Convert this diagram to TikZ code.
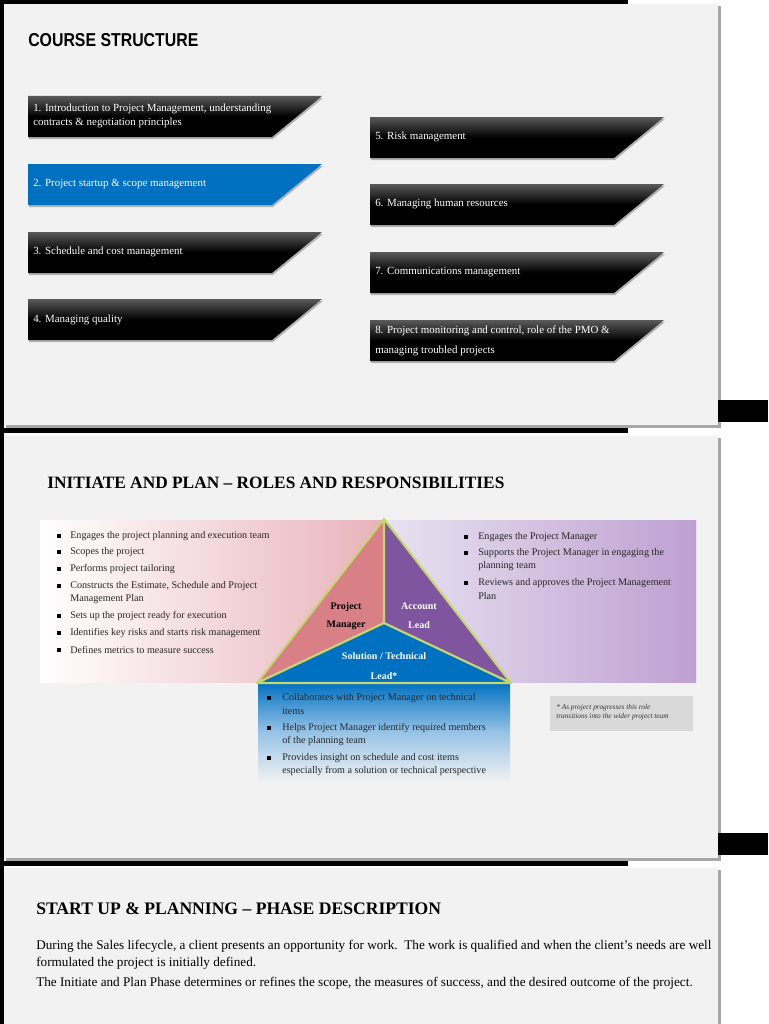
\documentclass[tikz,border=0pt]{standalone}
\usepackage{fontspec}
\setmainfont{Liberation Serif}
\newfontfamily\hsans{Liberation Sans}[FakeStretch=0.85]
\newcommand{\mybsq}{\rule{2.4pt}{2.4pt}}
\begin{document}
\begin{tikzpicture}[x=0.75pt,y=-0.75pt,
  btxt/.style={anchor=west,text=white,font=\fontsize{8.2}{11}\selectfont,align=left,inner sep=0pt},
  ltxt/.style={anchor=north west,font=\fontsize{7.6}{9.8}\selectfont,align=left,inner sep=0pt,text=black!85},
  bul/.style={inner sep=0pt,font=\fontsize{5}{5}\selectfont},
  lbl/.style={font=\bfseries\fontsize{7.5}{14}\selectfont,align=center,inner sep=0pt},
  ttl/.style={anchor=west,inner sep=0pt,font=\bfseries\fontsize{13.2}{16}\selectfont}]
\useasboundingbox (0,0) rectangle (768,1024);
\fill[white] (0,0) rectangle (768,1024);
\fill[black] (0,0) rectangle (628,4);
\fill[black] (0,0) rectangle (4,1024);
% panel 1
\fill[black!35] (6,6) rectangle (721,428);
\fill[black!5] (4,4) rectangle (718,425);
\fill[black] (718,400) rectangle (768,422);
\fill[black] (0,428) rectangle (628,433);
% panel 2
\fill[black!35] (6,438) rectangle (721,861);
\fill[black!5] (4,436) rectangle (718,858);
\fill[black] (718,833) rectangle (768,855);
\fill[black] (0,861) rectangle (628,866);
% panel 3
\fill[black!35] (6,870) rectangle (721,1024);
\fill[black!5] (4,868) rectangle (718,1024);

\node[anchor=west,inner sep=0pt,font=\hsans\bfseries\fontsize{14}{16}\selectfont] (t1) at (28,40) {COURSE STRUCTURE};

% banners
\foreach \x/\y/\c in {28/96/0,28/164/1,28/232/0,28/299/0,370/117/0,370/184/0,370/252/0,370/320/0}{
  \fill[black!30] (\x+1,\y+2) -- (\x+295,\y+2) -- (\x+245,\y+43) -- (\x+1,\y+43) -- cycle;
  \ifnum\c=1
    \fill[fill={rgb,255:red,0;green,112;blue,192}] (\x,\y) -- (\x+294,\y) -- (\x+244,\y+41) -- (\x,\y+41) -- cycle;
  \else
    \shade[top color=black!65,bottom color=black,middle color=black] (\x,\y) -- (\x+294,\y) -- (\x+244,\y+41) -- (\x,\y+41) -- cycle;
  \fi
}
\node[btxt] (b1) at (33,116) {1. Introduction to Project Management, understanding\\contracts \& negotiation principles};
\node[btxt] (b2) at (33,184) {2. Project startup \& scope management};
\node[btxt] (b3) at (33,252) {3. Schedule and cost management};
\node[btxt] (b4) at (33,320) {4. Managing quality};
\node[btxt] (b5) at (375,137) {5. Risk management};
\node[btxt] (b6) at (375,204) {6. Managing human resources};
\node[btxt] (b7) at (375,272) {7. Communications management};
\node[btxt,font=\fontsize{8.2}{15}\selectfont] (b8) at (375,341) {8. Project monitoring and control, role of the PMO \&\\managing troubled projects};

% panel 2
\node[ttl,font=\bfseries\fontsize{13}{16}\selectfont] (t2) at (47,483) {INITIATE AND PLAN -- ROLES AND RESPONSIBILITIES};
\shade[left color=white,right color={rgb,255:red,232;green,178;blue,186}] (40,520) rectangle (385,682);
\shade[left color={rgb,255:red,232;green,226;blue,240},right color={rgb,255:red,190;green,160;blue,210}] (385,520) rectangle (696,682);
\shade[top color={rgb,255:red,0;green,112;blue,192},bottom color=black!5,middle color={rgb,255:red,150;green,195;blue,230}] (258,682) rectangle (510,782);
\fill[black!15] (550,696) rectangle (693,731);
\coordinate (ap) at (384,519);
\coordinate (bl) at (257,683);
\coordinate (br) at (511,683);
\coordinate (ct) at (384,623);
\fill[fill={rgb,255:red,217;green,127;blue,134}] (ap) -- (ct) -- (bl) -- cycle;
\fill[fill={rgb,255:red,128;green,85;blue,160}] (ap) -- (br) -- (ct) -- cycle;
\fill[fill={rgb,255:red,0;green,112;blue,192}] (bl) -- (ct) -- (br) -- cycle;
\draw[line width=1.6pt,draw={rgb,255:red,197;green,216;blue,109},line join=round] (ap) -- (bl) -- (br) -- cycle (ap) -- (ct) (bl) -- (ct) -- (br);
\node[lbl] (pm) at (346,616) {Project\\Manager};
\node[lbl,text=white] (al) at (419,616) {Account\\Lead};
\node[lbl,text=white,font=\bfseries\fontsize{7.5}{15.5}\selectfont] (sl) at (384,666) {Solution / Technical\\Lead*};

\foreach \yy/\t in {536/Engages the project planning and execution team,552/Scopes the project,569/Performs project tailoring,586/Constructs the Estimate{,} Schedule and Project,616/Sets up the project ready for execution,633/Identifies key risks and starts risk management,650/Defines metrics to measure success}{
  \node[bul] at (59,\yy) {\mybsq};
  \node[ltxt,anchor=west] at (70,\yy) {\t};
}
\node[ltxt,anchor=west] (lm) at (70,599) {Management Plan};
\foreach \yy/\t in {537/Engages the Project Manager,553/Supports the Project Manager in engaging the,583/Reviews and approves the Project Management}{
  \node[bul] at (466,\yy) {\mybsq};
  \node[ltxt,anchor=west] at (478,\yy) {\t};
}
\node[ltxt,anchor=west] (r2) at (478,566) {planning team};
\node[ltxt,anchor=west] (r3) at (478,596) {Plan};
\foreach \yy/\t in {698/Collaborates with Project Manager on technical,728/Helps Project Manager identify required members,758/Provides insight on schedule and cost items}{
  \node[bul] at (269,\yy) {\mybsq};
  \node[ltxt,anchor=west] at (282,\yy) {\t};
}
\node[ltxt,anchor=west] (s1) at (282,711) {items};
\node[ltxt,anchor=west] (s2) at (282,741) {of the planning team};
\node[ltxt,anchor=west] (s3) at (282,771) {especially from a solution or technical perspective};
\node[anchor=north west,inner sep=0pt,align=left,font=\itshape\fontsize{5.5}{7}\selectfont,text=black!80] (nt) at (556,704) {* As project progresses this role\\transitions into the wider project team};

% panel 3
\node[ttl] (t3) at (36,909) {START UP \& PLANNING -- PHASE DESCRIPTION};
\node[anchor=west,inner sep=0pt,align=left,font=\fontsize{9.9}{13}\selectfont] (p1) at (36,955) {During the Sales lifecycle, a client presents an opportunity for work.\ \ The work is qualified and when the client's needs are well\\formulated the project is initially defined.};
\node[anchor=west,inner sep=0pt,font=\fontsize{9.9}{13}\selectfont] (p2) at (36,983) {The Initiate and Plan Phase determines or refines the scope, the measures of success, and the desired outcome of the project.};
\end{tikzpicture}
\end{document}
